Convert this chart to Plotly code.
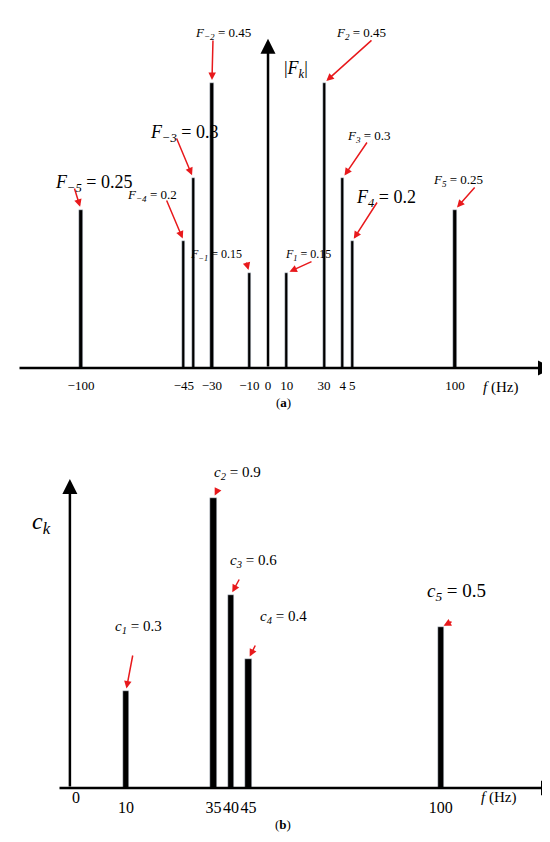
import plotly.graph_objects as go

# top spectrum (a)
f_top = [-100, -45, -40, -30, -10, 10, 30, 40, 45, 100]
F_top = [0.25, 0.2, 0.3, 0.45, 0.15, 0.15, 0.45, 0.3, 0.2, 0.25]
top_ticks = [-100, -45, -30, -10, 0, 10, 30, 40, 45, 100]
top_ticktext = ["−100", "−45", "−30", "−10", "0", "10", "30", "4", "5", "100"]
top_labels = ["F<sub>−5</sub>", "F<sub>−4</sub>", "F<sub>−3</sub>", "F<sub>−2</sub>",
              "F<sub>−1</sub>", "F<sub>1</sub>", "F<sub>2</sub>", "F<sub>3</sub>",
              "F<sub>4</sub>", "F<sub>5</sub>"]
top_values_txt = ["0.25", "0.2", "0.3", "0.45", "0.15", "0.15", "0.45", "0.3", "0.2", "0.25"]
top_sizes = [18, 13, 18, 13, 12, 12, 13, 13, 18, 13]

# bottom spectrum (b)
f_bot = [10, 35, 40, 45, 100]
c_bot = [0.3, 0.9, 0.6, 0.4, 0.5]
bot_ticks = [10, 35, 40, 45, 100]
bot_labels = ["c<sub>1</sub>", "c<sub>2</sub>", "c<sub>3</sub>", "c<sub>4</sub>", "c<sub>5</sub>"]
bot_values_txt = ["0.3", "0.9", "0.6", "0.4", "0.5"]
bot_sizes = [15, 15, 15, 15, 19]

W, H = 550, 842
def px(x): return x / W
def py(y): return 1 - y / H

TX0, TX1, TR0, TR1 = 10, 545, -133.7, 152.4
TY0, TY1, TYR = 360, 30, 0.521
BX0, BX1, BR0, BR1 = 50, 548, -9.4, 132.9
BY0, BY1, BYR = 780, 470, 0.963

SERIF = "Liberation Serif"
fig = go.Figure()
fig.add_trace(go.Bar(x=f_top, y=F_top, width=1.7, marker_color="black", xaxis="x", yaxis="y"))
fig.add_trace(go.Bar(x=f_bot, y=c_bot, width=1.9, marker_color="black", xaxis="x2", yaxis="y2"))

def ax_common(size):
    return dict(showgrid=False, zeroline=False, showline=False, ticks="", ticklabelstandoff=8,
                tickangle=0, tickfont=dict(family=SERIF, size=size, color="black"))

fig.update_layout(
    width=W, height=H, margin=dict(l=0, r=0, t=0, b=0), showlegend=False,
    plot_bgcolor="white", paper_bgcolor="white", bargap=0,
    xaxis=dict(domain=[px(TX0), px(TX1)], range=[TR0, TR1], tickvals=top_ticks,
               ticktext=top_ticktext, **ax_common(13)),
    yaxis=dict(domain=[py(TY0), py(TY1)], range=[0, TYR], visible=False),
    xaxis2=dict(domain=[px(BX0), px(BX1)], range=[BR0, BR1], tickvals=bot_ticks,
                anchor="y2", **ax_common(16)),
    yaxis2=dict(domain=[py(BY0), py(BY1)], range=[0, BYR], visible=False, anchor="x2"),
)

def axis_arrow(xr, yr, x0, y0, x1, y1):
    fig.add_annotation(x=x1, y=y1, ax=x0, ay=y0, xref=xr, yref=yr, axref=xr, ayref=yr,
                       text="", showarrow=True, arrowhead=2, arrowsize=1.2, arrowwidth=2.5,
                       arrowcolor="black")

axis_arrow("x", "y", TR0, 0, TR1, 0)
axis_arrow("x", "y", 0, 0, 0, 0.52)
axis_arrow("x2", "y2", BR0, 0, BR1, 0)
axis_arrow("x2", "y2", -6, 0, -6, 0.96)

def tip_top(f, v):
    return TX0 + (f - TR0) * (TX1 - TX0) / (TR1 - TR0), TY0 - v * (TY0 - TY1) / TYR
def tip_bot(f, v):
    return BX0 + (f - BR0) * (BX1 - BX0) / (BR1 - BR0), BY0 - v * (BY0 - BY1) / BYR

# label position (px) and arrow tail (px)
top_pos = [(45, 162, 66, 176), (117, 177, 158, 188), (140, 112, 168, 126), (215, 15, 205, 28),
           (208, 237, 238, 250), (300, 237, 305, 250), (380, 15, 365, 28), (385, 118, 360, 130),
           (410, 177, 370, 190), (477, 162, 468, 175)]
for f, v, t, vt, s, (tx, ty, ax0, ay0) in zip(f_top, F_top, top_labels, top_values_txt, top_sizes, top_pos):
    xx, yy = tip_top(f, v)
    fig.add_annotation(x=f, y=v, xref="x", yref="y", text="", showarrow=True, arrowhead=2,
                       arrowcolor="#e8191c", arrowwidth=1.5, ax=ax0 - xx, ay=ay0 - (yy - 3),
                       standoff=3)
    fig.add_annotation(x=px(tx), y=py(ty), xref="paper", yref="paper", showarrow=False,
                       text=f"<i>{t}</i> = {vt}", font=dict(family=SERIF, size=s, color="black"))

bot_pos = [(105, 630, 125, 643), (230, 465, 210, 478), (245, 553, 232, 567), (275, 620, 248, 633),
           (480, 598, 445, 610)]
for f, v, t, vt, s, (tx, ty, ax0, ay0) in zip(f_bot, c_bot, bot_labels, bot_values_txt, bot_sizes, bot_pos):
    xx, yy = tip_bot(f, v)
    fig.add_annotation(x=f, y=v, xref="x2", yref="y2", text="", showarrow=True, arrowhead=2,
                       arrowcolor="#e8191c", arrowwidth=1.5, ax=ax0 - xx, ay=ay0 - (yy - 3),
                       standoff=3)
    fig.add_annotation(x=px(tx), y=py(ty), xref="paper", yref="paper", showarrow=False,
                       text=f"<i>{t}</i> = {vt}", font=dict(family=SERIF, size=s, color="black"))

texts = [("|<i>F<sub>k</sub></i>|", 288, 48, 18), ("<i>f</i> (Hz)", 512, 380, 15), ("(<b>a</b>)", 275, 394, 13),
         ("<i>c<sub>k</sub></i>", 22, 515, 24), ("0", 62, 800, 16), ("<i>f</i> (Hz)", 510, 800, 15),
         ("(<b>b</b>)", 275, 826, 13)]
for t, x, y, s in texts:
    fig.add_annotation(x=px(x), y=py(y), xref="paper", yref="paper", text=t, showarrow=False,
                       font=dict(family=SERIF, size=s, color="black"))

fig.write_html("out.html")
